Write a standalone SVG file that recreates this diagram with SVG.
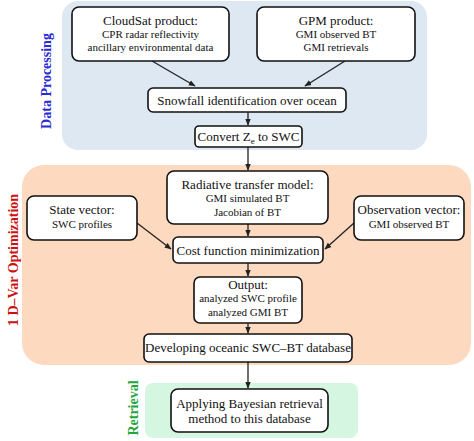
<svg xmlns="http://www.w3.org/2000/svg" width="474" height="441" viewBox="0 0 474 441">
<style>
.box{fill:#fff;stroke:#111;stroke-width:1.6}
.t{font-family:"Liberation Serif","Times New Roman",serif;font-size:13px;fill:#111;text-anchor:middle}
.s{font-family:"Liberation Serif","Times New Roman",serif;font-size:11px;fill:#111;text-anchor:middle}
.lab{font-family:"Liberation Serif","Times New Roman",serif;font-size:14px;font-weight:bold;text-anchor:middle}
.c{stroke:#222;stroke-width:1.3;fill:none;marker-end:url(#ah)}
</style>
<defs>
<marker id="ah" viewBox="0 0 10 10" refX="9" refY="5" markerWidth="7" markerHeight="7" orient="auto" markerUnits="userSpaceOnUse">
<path d="M0,1 L10,5 L0,9 Z" fill="#222"/>
</marker>
</defs>
<rect width="474" height="441" fill="#fff"/>
<g id="regions">
<rect x="62" y="1" width="365" height="149" rx="16" fill="#dde8f3"/>
<rect x="22" y="165" width="449" height="200" rx="22" fill="#fcd9bf"/>
<rect x="145" y="383" width="213" height="55" rx="8" fill="#d5f6e0"/>
<text class="lab" fill="#2b2bd6" transform="translate(51,81) rotate(-90)">Data Processing</text>
<text class="lab" fill="#cc1111" transform="translate(18,260) rotate(-90)">1 D–Var Optimization</text>
<text class="lab" fill="#22a63a" transform="translate(138,408) rotate(-90)">Retrieval</text>
</g>
<g id="connectors">
<line class="c" x1="152" y1="61" x2="195" y2="86"/>
<line class="c" x1="345" y1="61" x2="305" y2="86"/>
<line class="c" x1="248" y1="112" x2="248" y2="125"/>
<line class="c" x1="248" y1="147" x2="248" y2="170"/>
<line class="c" x1="248" y1="224" x2="248" y2="236"/>
<line class="c" x1="137" y1="223" x2="171" y2="249"/>
<line class="c" x1="354" y1="223" x2="325" y2="249"/>
<line class="c" x1="248" y1="263" x2="248" y2="276"/>
<line class="c" x1="248" y1="323" x2="248" y2="333"/>
<line class="c" x1="248" y1="362" x2="248" y2="388"/>
</g>
<g id="cloudsat">
<rect class="box" x="72" y="7" width="157" height="54" rx="7"/>
<text class="t" x="150.5" y="25">CloudSat product:</text>
<text class="s" x="150.5" y="38">CPR radar reflectivity</text>
<text class="s" x="150.5" y="51">ancillary environmental data</text>
</g>
<g id="gpm">
<rect class="box" x="257" y="7" width="158" height="54" rx="7"/>
<text class="t" x="336" y="25">GPM product:</text>
<text class="s" x="336" y="38">GMI observed BT</text>
<text class="s" x="336" y="51">GMI retrievals</text>
</g>
<g id="snowfall">
<rect class="box" x="148" y="88" width="198" height="24" rx="5"/>
<text class="t" x="247" y="104.5">Snowfall identification over ocean</text>
</g>
<g id="convert">
<rect class="box" x="195" y="126" width="107" height="21" rx="4"/>
<text class="t" x="248.5" y="141">Convert Z<tspan font-size="9" dy="3">e</tspan><tspan dy="-3"> to SWC</tspan></text>
</g>
<g id="radiative">
<rect class="box" x="167" y="171" width="161" height="53" rx="7"/>
<text class="t" x="247.5" y="189">Radiative transfer model:</text>
<text class="s" x="247.5" y="202">GMI simulated BT</text>
<text class="s" x="247.5" y="216">Jacobian of BT</text>
</g>
<g id="state">
<rect class="box" x="27" y="196" width="110" height="44" rx="7"/>
<text class="t" x="82" y="214">State vector:</text>
<text class="s" x="82" y="228">SWC profiles</text>
</g>
<g id="observation">
<rect class="box" x="354" y="196" width="110" height="44" rx="7"/>
<text class="t" x="409" y="214">Observation vector:</text>
<text class="s" x="409" y="228">GMI observed BT</text>
</g>
<g id="cost">
<rect class="box" x="173" y="237" width="150" height="26" rx="5"/>
<text class="t" x="248" y="255">Cost function minimization</text>
</g>
<g id="output">
<rect class="box" x="194" y="277" width="108" height="46" rx="6"/>
<text class="t" x="248" y="289">Output:</text>
<text class="s" x="248" y="302">analyzed SWC profile</text>
<text class="s" x="248" y="316">analyzed GMI BT</text>
</g>
<g id="developing">
<rect class="box" x="144" y="334" width="208" height="28" rx="5"/>
<text class="t" x="248" y="352">Developing oceanic SWC–BT database</text>
</g>
<g id="applying">
<rect class="box" x="171" y="389" width="157" height="43" rx="7"/>
<text class="t" x="249.5" y="408">Applying Bayesian retrieval</text>
<text class="t" x="249.5" y="423">method to this database</text>
</g>
</svg>
